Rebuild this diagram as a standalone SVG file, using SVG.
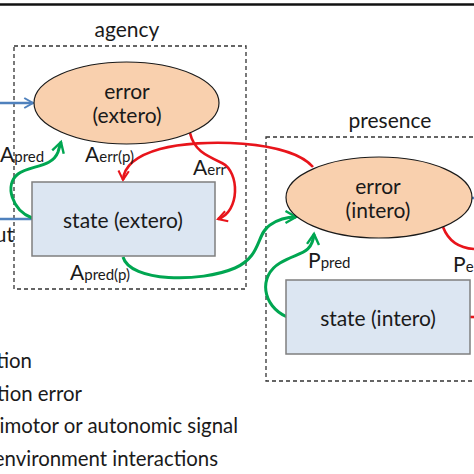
<svg xmlns="http://www.w3.org/2000/svg" width="474" height="474" viewBox="0 0 474 474">
<style>
text{font-family:Lato,"Open Sans","Liberation Sans",sans-serif;fill:#1a1a1a}
.n{font-size:21px;text-anchor:middle}
.lab{font-size:21px}
.leg{font-size:20.4px;text-anchor:end}
.sub{font-size:15px}
.err{fill:#F9D0AE;stroke:#1a1a1a;stroke-width:1.2}
.st{fill:#DCE6F2;stroke:#7f7f7f;stroke-width:1.5}
.box{fill:none;stroke:#333;stroke-width:1.3;stroke-dasharray:4 3}
.g{fill:none;stroke:#00A651;stroke-width:3}
.r{fill:none;stroke:#E8141B;stroke-width:2.6}
.b{fill:none;stroke:#4F81BD;stroke-width:2.5}
</style>
<defs>
<marker id="ag" viewBox="0 0 10 10" refX="8" refY="5" markerWidth="5" markerHeight="5" orient="auto" markerUnits="strokeWidth"><path d="M1,1 L8,5 L1,9" fill="none" stroke="#00A651" stroke-width="1.6"/></marker>
<marker id="ar" viewBox="0 0 10 10" refX="8" refY="5" markerWidth="5" markerHeight="5" orient="auto" markerUnits="strokeWidth"><path d="M1,1 L8,5 L1,9" fill="none" stroke="#E8141B" stroke-width="1.6"/></marker>
<marker id="ab" viewBox="0 0 10 10" refX="8" refY="5" markerWidth="5" markerHeight="5" orient="auto" markerUnits="strokeWidth"><path d="M1,1 L8,5 L1,9" fill="none" stroke="#4F81BD" stroke-width="1.6"/></marker>
</defs>
<line x1="0" y1="4.5" x2="474" y2="4.5" stroke="#111" stroke-width="2.6"/>
<g id="agency">
<rect class="box" x="14" y="46" width="232" height="243"/>
<text class="n" x="127" y="37">agency</text>
</g>
<g id="presence">
<rect class="box" x="266" y="137" width="212" height="244"/>
<text class="n" x="390" y="128">presence</text>
</g>
<g id="connectors">
<line class="b" x1="0" y1="103" x2="33" y2="103" marker-end="url(#ab)"/>
<line class="b" x1="0" y1="219" x2="32" y2="219"/>
<line class="b" x1="472" y1="198" x2="474" y2="198"/>
<path class="g" d="M32,218 C12,210 4,185 18,174 C30,165 52,168 58,152 L61,142" marker-end="url(#ag)"/>
<path class="r" d="M190,133 C194,150 205,155 222,163 C240,172 240,212 218,219" marker-end="url(#ar)"/>
<path class="r" d="M313,167 C290,140 200,138 160,149 C135,156 124,166 123,180" marker-end="url(#ar)"/>
<path class="g" d="M123,257 C130,282 200,283 235,268 C262,256 256,234 270,225 C280,218 288,217 296,217" marker-end="url(#ag)"/>
<path class="g" d="M287,317 C262,306 258,276 280,263 C298,252 312,255 314,234" marker-end="url(#ag)"/>
<path class="r" d="M443,227 C448,240 458,248 474,249"/>
<line class="r" x1="470" y1="317" x2="474" y2="317"/>
<text class="lab" x="0" y="162">A<tspan class="sub">pred</tspan></text>
<text class="lab" x="85" y="162">A<tspan class="sub">err(p)</tspan></text>
<text class="lab" x="193" y="175">A<tspan class="sub">err</tspan></text>
<text class="lab" x="70" y="280">A<tspan class="sub">pred(p)</tspan></text>
<text class="lab" x="308" y="268">P<tspan class="sub">pred</tspan></text>
<text class="lab" x="453" y="272">P<tspan class="sub">e</tspan></text>
<text class="lab" x="14" y="242" text-anchor="end">ut</text>
</g>
<g id="error-extero">
<ellipse class="err" cx="126.5" cy="103" rx="92.5" ry="41"/>
<text class="n" x="127" y="99">error</text>
<text class="n" x="127" y="123">(extero)</text>
</g>
<g id="state-extero">
<rect class="st" x="32" y="182" width="183" height="74"/>
<text class="n" x="123" y="228">state (extero)</text>
</g>
<g id="error-intero">
<ellipse class="err" cx="379" cy="197.5" rx="93" ry="40.5"/>
<text class="n" x="378" y="194">error</text>
<text class="n" x="378" y="218">(intero)</text>
</g>
<g id="state-intero">
<rect class="st" x="286" y="280" width="184" height="74"/>
<text class="n" x="378" y="326">state (intero)</text>
</g>
<g id="legend">
<text class="leg" x="32" y="368">tion</text>
<text class="leg" x="82" y="400.5">tion error</text>
<text class="leg" x="238" y="433">imotor or autonomic signal</text>
<text class="leg" x="218" y="465.5">environment interactions</text>
</g>
</svg>
